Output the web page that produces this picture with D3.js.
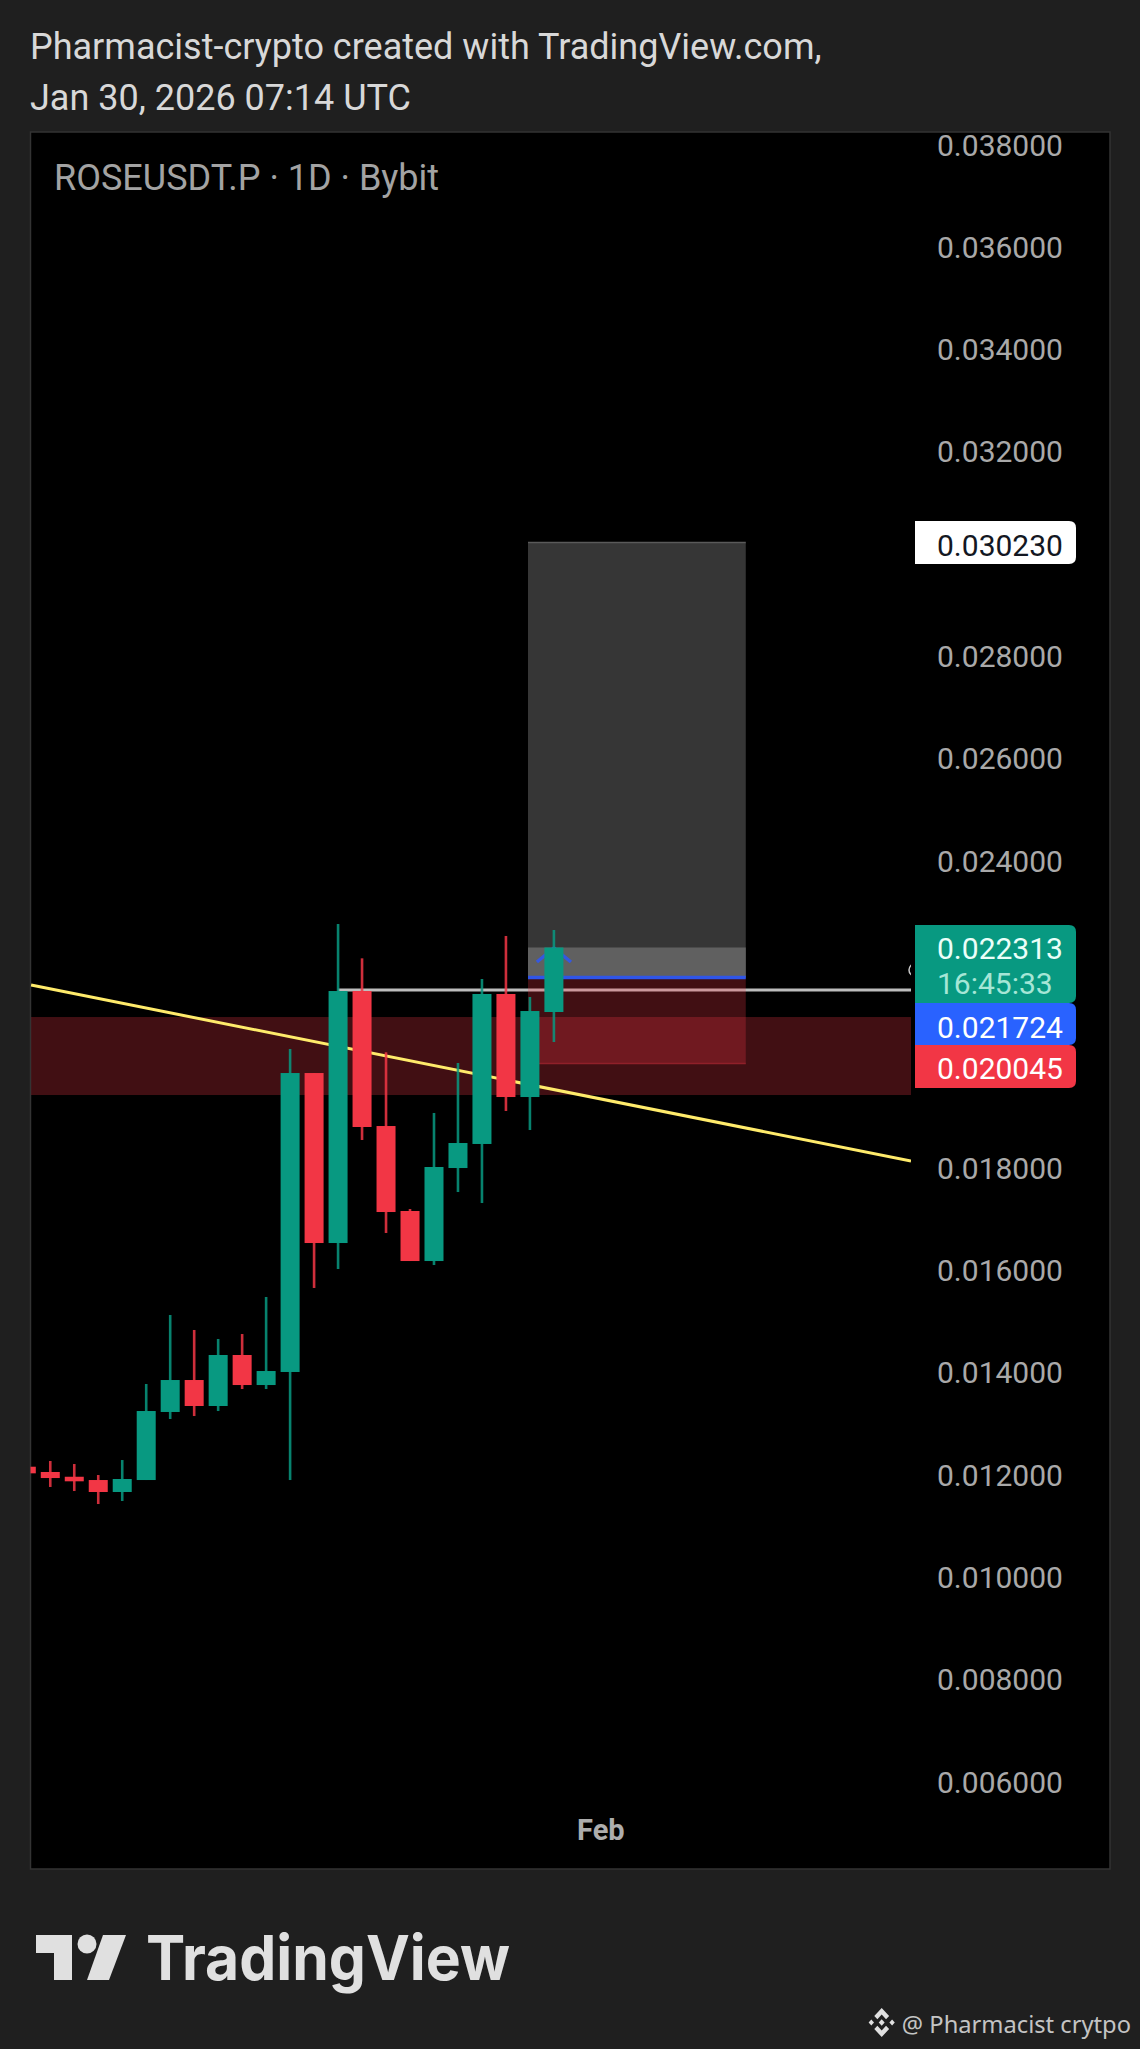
<!DOCTYPE html>
<html>
<head>
<meta charset="utf-8">
<script src="https://d3js.org/d3.v7.min.js"></script>
<style>
    html, body { margin: 0; padding: 0; background: #1f1f1f; }
    svg { display: block; }
    text { font-family: Roboto, sans-serif; }
</style>
</head>
<body>
<svg id="chart"></svg>
<script>
    // daily candles
    const opens  = [0.012163, 0.012060, 0.011967, 0.011903, 0.011669, 0.011903, 0.013233, 0.013858, 0.013350, 0.014347, 0.013760, 0.014015,
                    0.019859, 0.016536, 0.021462, 0.018823, 0.017162, 0.016184, 0.018002, 0.018472, 0.021404, 0.019390, 0.021052];
    const highs  = [0.012163, 0.012275, 0.012216, 0.012001, 0.012294, 0.013780, 0.015129, 0.014836, 0.014660, 0.014757, 0.015481, 0.020329,
                    0.019859, 0.022772, 0.022101, 0.020264, 0.017201, 0.019078, 0.020055, 0.021697, 0.022538, 0.021345, 0.022655];
    const lows   = [0.012034, 0.011767, 0.011688, 0.011434, 0.011493, 0.011903, 0.013096, 0.013154, 0.013252, 0.013682, 0.013682, 0.011903,
                    0.015657, 0.016028, 0.018550, 0.016732, 0.016184, 0.016106, 0.017533, 0.017318, 0.019117, 0.018745, 0.020465];
    const closes = [0.012034, 0.011942, 0.011878, 0.011669, 0.011923, 0.013252, 0.013858, 0.013350, 0.014347, 0.013760, 0.014034, 0.019859,
                    0.016536, 0.021462, 0.018804, 0.017142, 0.016184, 0.018022, 0.018491, 0.021404, 0.019390, 0.021071, 0.022313];

    const priceTicks = [0.038, 0.036, 0.034, 0.032, 0.028, 0.026, 0.024, 0.018, 0.016, 0.014, 0.012, 0.010, 0.008, 0.006];

    const lastPrice = 0.022313;
    const entryPrice = 0.021724;
    const targetPrice = 0.030230;
    const stopPrice = 0.020045;
    const countdown = "16:45:33";

    const zonePrices = [0.020954, 0.019429];
    const resistancePrice = 0.021484;
    const trendPrices = [0.021580, 0.018139];
    const trendBars = [0.2, 36.89];
    const boxBars = [20.92, 30];
    const resistanceStartBar = 13;
    const febBar = 24;

    const W = 1140, H = 2049;
    const plot = { left: 30.5, right: 1110, top: 132, bottom: 1869, markRight: 911 };
    const green = "#089981", red = "#f23645", blue = "#2962ff";
    const bodyW = 19, wickW = 2.6;

    const svg = d3.select("#chart").attr("width", W).attr("height", H);
    const x = d3.scaleLinear().domain([0, 36.89]).range([26.3, plot.markRight]);
    const y = d3.scaleLinear().domain([0.006, 0.038]).range([1782, 145]);
    const price = d => d.toFixed(6);

    svg.append("rect").attr("width", W).attr("height", H).attr("fill", "#1f1f1f");
    svg.append("rect")
        .attr("x", plot.left).attr("y", plot.top)
        .attr("width", plot.right - plot.left).attr("height", plot.bottom - plot.top)
        .attr("fill", "#000").attr("stroke", "#333").attr("stroke-width", 1.5);

    svg.append("defs").append("clipPath").attr("id", "marks")
        .append("rect")
        .attr("x", plot.left).attr("y", plot.top)
        .attr("width", plot.markRight - plot.left).attr("height", plot.bottom - plot.top);
    const marks = svg.append("g").attr("clip-path", "url(#marks)");

    // support zone
    marks.append("rect")
        .attr("x", x(trendBars[0])).attr("width", x(trendBars[1]) - x(trendBars[0]))
        .attr("y", y(zonePrices[0])).attr("height", y(zonePrices[1]) - y(zonePrices[0]))
        .attr("fill", "rgba(242,54,69,0.27)");

    // horizontal line and trend line
    marks.append("line")
        .attr("x1", x(resistanceStartBar)).attr("x2", x(trendBars[1]))
        .attr("y1", y(resistancePrice)).attr("y2", y(resistancePrice))
        .attr("stroke", "#bdbdbd").attr("stroke-width", 3);
    marks.append("line")
        .attr("x1", x(trendBars[0])).attr("x2", x(trendBars[1]))
        .attr("y1", y(trendPrices[0])).attr("y2", y(trendPrices[1]))
        .attr("stroke", "#ffeb6b").attr("stroke-width", 3);

    // long position tool
    const boxX = x(boxBars[0]), boxW = x(boxBars[1]) - x(boxBars[0]);
    marks.append("rect")
        .attr("x", boxX).attr("width", boxW)
        .attr("y", y(targetPrice)).attr("height", y(entryPrice) - y(targetPrice))
        .attr("fill", "#363636");
    marks.append("line")
        .attr("x1", boxX).attr("x2", boxX + boxW)
        .attr("y1", y(targetPrice)).attr("y2", y(targetPrice))
        .attr("stroke", "#5a5a5a").attr("stroke-width", 1.5);
    marks.append("rect")
        .attr("x", boxX).attr("width", boxW)
        .attr("y", y(lastPrice)).attr("height", y(entryPrice) - y(lastPrice))
        .attr("fill", "#606060");
    marks.append("rect")
        .attr("x", boxX).attr("width", boxW)
        .attr("y", y(entryPrice)).attr("height", y(stopPrice) - y(entryPrice))
        .attr("fill", "rgba(242,54,69,0.27)");
    marks.append("line")
        .attr("x1", boxX).attr("x2", boxX + boxW)
        .attr("y1", y(stopPrice)).attr("y2", y(stopPrice))
        .attr("stroke", "#8f2029").attr("stroke-width", 1.5);
    marks.append("line")
        .attr("x1", boxX).attr("x2", boxX + boxW)
        .attr("y1", y(entryPrice)).attr("y2", y(entryPrice))
        .attr("stroke", "#2f55e8").attr("stroke-width", 3.5);

    // blue chevron behind the last candle
    marks.append("path")
        .attr("d", d3.line()([[x(22) - 17, 962], [x(22), 948], [x(22) + 17, 962]]))
        .attr("fill", "none").attr("stroke", "#3558e0").attr("stroke-width", 3.5)
        .attr("stroke-linejoin", "bevel");

    // candles
    const bars = d3.range(opens.length);
    const color = i => closes[i] >= opens[i] ? green : red;
    marks.selectAll(".wick").data(bars).enter().append("rect")
        .attr("class", "wick")
        .attr("x", i => x(i) - wickW / 2)
        .attr("width", wickW)
        .attr("y", i => y(highs[i]))
        .attr("height", i => y(lows[i]) - y(highs[i]))
        .attr("fill", color)
        .attr("fill-opacity", 0.85);
    marks.selectAll(".body").data(bars).enter().append("rect")
        .attr("class", "body")
        .attr("x", i => x(i) - bodyW / 2)
        .attr("width", bodyW)
        .attr("y", i => y(Math.max(opens[i], closes[i])))
        .attr("height", i => Math.abs(y(opens[i]) - y(closes[i])))
        .attr("fill", color);

    // small round handle at the end of the line, cut by the scale
    marks.append("circle")
        .attr("cx", plot.markRight + 4).attr("cy", 970).attr("r", 6)
        .attr("fill", "none").attr("stroke", "#c8c8c8").attr("stroke-width", 1.5);

    // price scale
    const axis = svg.append("g")
        .attr("transform", "translate(937,0.4)")
        .call(d3.axisRight(y).tickValues(priceTicks).tickSize(0).tickPadding(0).tickFormat(price));
    axis.select(".domain").remove();
    axis.selectAll("text")
        .attr("fill", "#a9a9a9")
        .style("font-family", "Roboto, sans-serif")
        .style("font-size", "30px");

    // price labels, square on the left and rounded on the right
    const labelLeft = 915, labelRight = 1076, r = 7;
    const labelPath = (top, bottom) =>
        `M${labelLeft},${top}H${labelRight - r}Q${labelRight},${top} ${labelRight},${top + r}` +
        `V${bottom - r}Q${labelRight},${bottom} ${labelRight - r},${bottom}H${labelLeft}Z`;
    const labels = [
        { top: 521, bottom: 564, fill: "#ffffff" },
        { top: 925, bottom: 1003, fill: green },
        { top: 1003, bottom: 1045, fill: blue },
        { top: 1045, bottom: 1088, fill: red }
    ];
    svg.selectAll(".price-label").data(labels).enter().append("path")
        .attr("class", "price-label")
        .attr("d", d => labelPath(d.top, d.bottom))
        .attr("fill", d => d.fill);
    const labelTexts = [
        { text: price(targetPrice), cy: 545, fill: "#131722" },
        { text: price(lastPrice), cy: 948, fill: "#eafff9" },
        { text: countdown, cy: 983, fill: "#a6e6d6" },
        { text: price(entryPrice), cy: 1027, fill: "#ffffff" },
        { text: price(stopPrice), cy: 1068, fill: "#ffffff" }
    ];
    svg.selectAll(".price-text").data(labelTexts).enter().append("text")
        .attr("class", "price-text")
        .attr("x", 937).attr("y", d => d.cy)
        .attr("dy", "0.355em")
        .attr("font-size", 30)
        .attr("fill", d => d.fill)
        .text(d => d.text);

    // time axis
    svg.append("text")
        .attr("x", x(febBar) - 1).attr("y", 1840)
        .attr("text-anchor", "middle")
        .attr("font-size", 29).attr("font-weight", 700)
        .attr("fill", "#adadad")
        .text("Feb");

    // header and symbol
    svg.append("text").attr("x", 30).attr("y", 59).attr("font-size", 36).attr("fill", "#d8d8d8")
        .text("Pharmacist-crypto created with TradingView.com,");
    svg.append("text").attr("x", 30).attr("y", 110).attr("font-size", 36).attr("fill", "#d8d8d8")
        .text("Jan 30, 2026 07:14 UTC");
    svg.append("text").attr("x", 54).attr("y", 190).attr("font-size", 36).attr("fill", "#a3a3a3")
        .text("ROSEUSDT.P · 1D · Bybit");

    // TradingView logo
    const logo = svg.append("g").attr("fill", "#e0e0e0");
    logo.append("path").attr("d", "M36,1935H72V1980H54V1953H36Z");
    logo.append("circle").attr("cx", 87).attr("cy", 1944).attr("r", 9.5);
    logo.append("path").attr("d", "M103,1935H126L109,1980H87Z");
    logo.append("text")
        .attr("x", 146).attr("y", 1980)
        .attr("font-size", 62).attr("font-weight", 700)
        .attr("textLength", 364).attr("lengthAdjust", "spacingAndGlyphs")
        .style("font-family", "Inter, sans-serif")
        .text("TradingView");

    // watermark
    const badge = svg.append("g").attr("transform", "translate(881.7,2022.5) scale(13.5,14.5)").attr("fill", "#e0e0e0");
    const badgeShapes = [
        [[0, -1], [0.55, -0.45], [0.32, -0.23], [0, -0.55], [-0.32, -0.23], [-0.55, -0.45]],
        [[0, 1], [0.55, 0.45], [0.32, 0.23], [0, 0.55], [-0.32, 0.23], [-0.55, 0.45]],
        [[0, -0.22], [0.22, 0], [0, 0.22], [-0.22, 0]],
        [[-0.77, -0.2], [-0.57, 0], [-0.77, 0.2], [-0.97, 0]],
        [[0.77, -0.2], [0.97, 0], [0.77, 0.2], [0.57, 0]]
    ];
    badge.selectAll("polygon").data(badgeShapes).enter().append("polygon")
        .attr("points", d => d.join(" "));
    svg.append("text")
        .attr("x", 1131).attr("y", 2033)
        .attr("text-anchor", "end")
        .attr("font-size", 23.7)
        .attr("fill", "#c4c4c4")
        .style("font-family", "'Noto Sans', sans-serif")
        .text("@ Pharmacist crytpo");
</script>
</body>
</html>
